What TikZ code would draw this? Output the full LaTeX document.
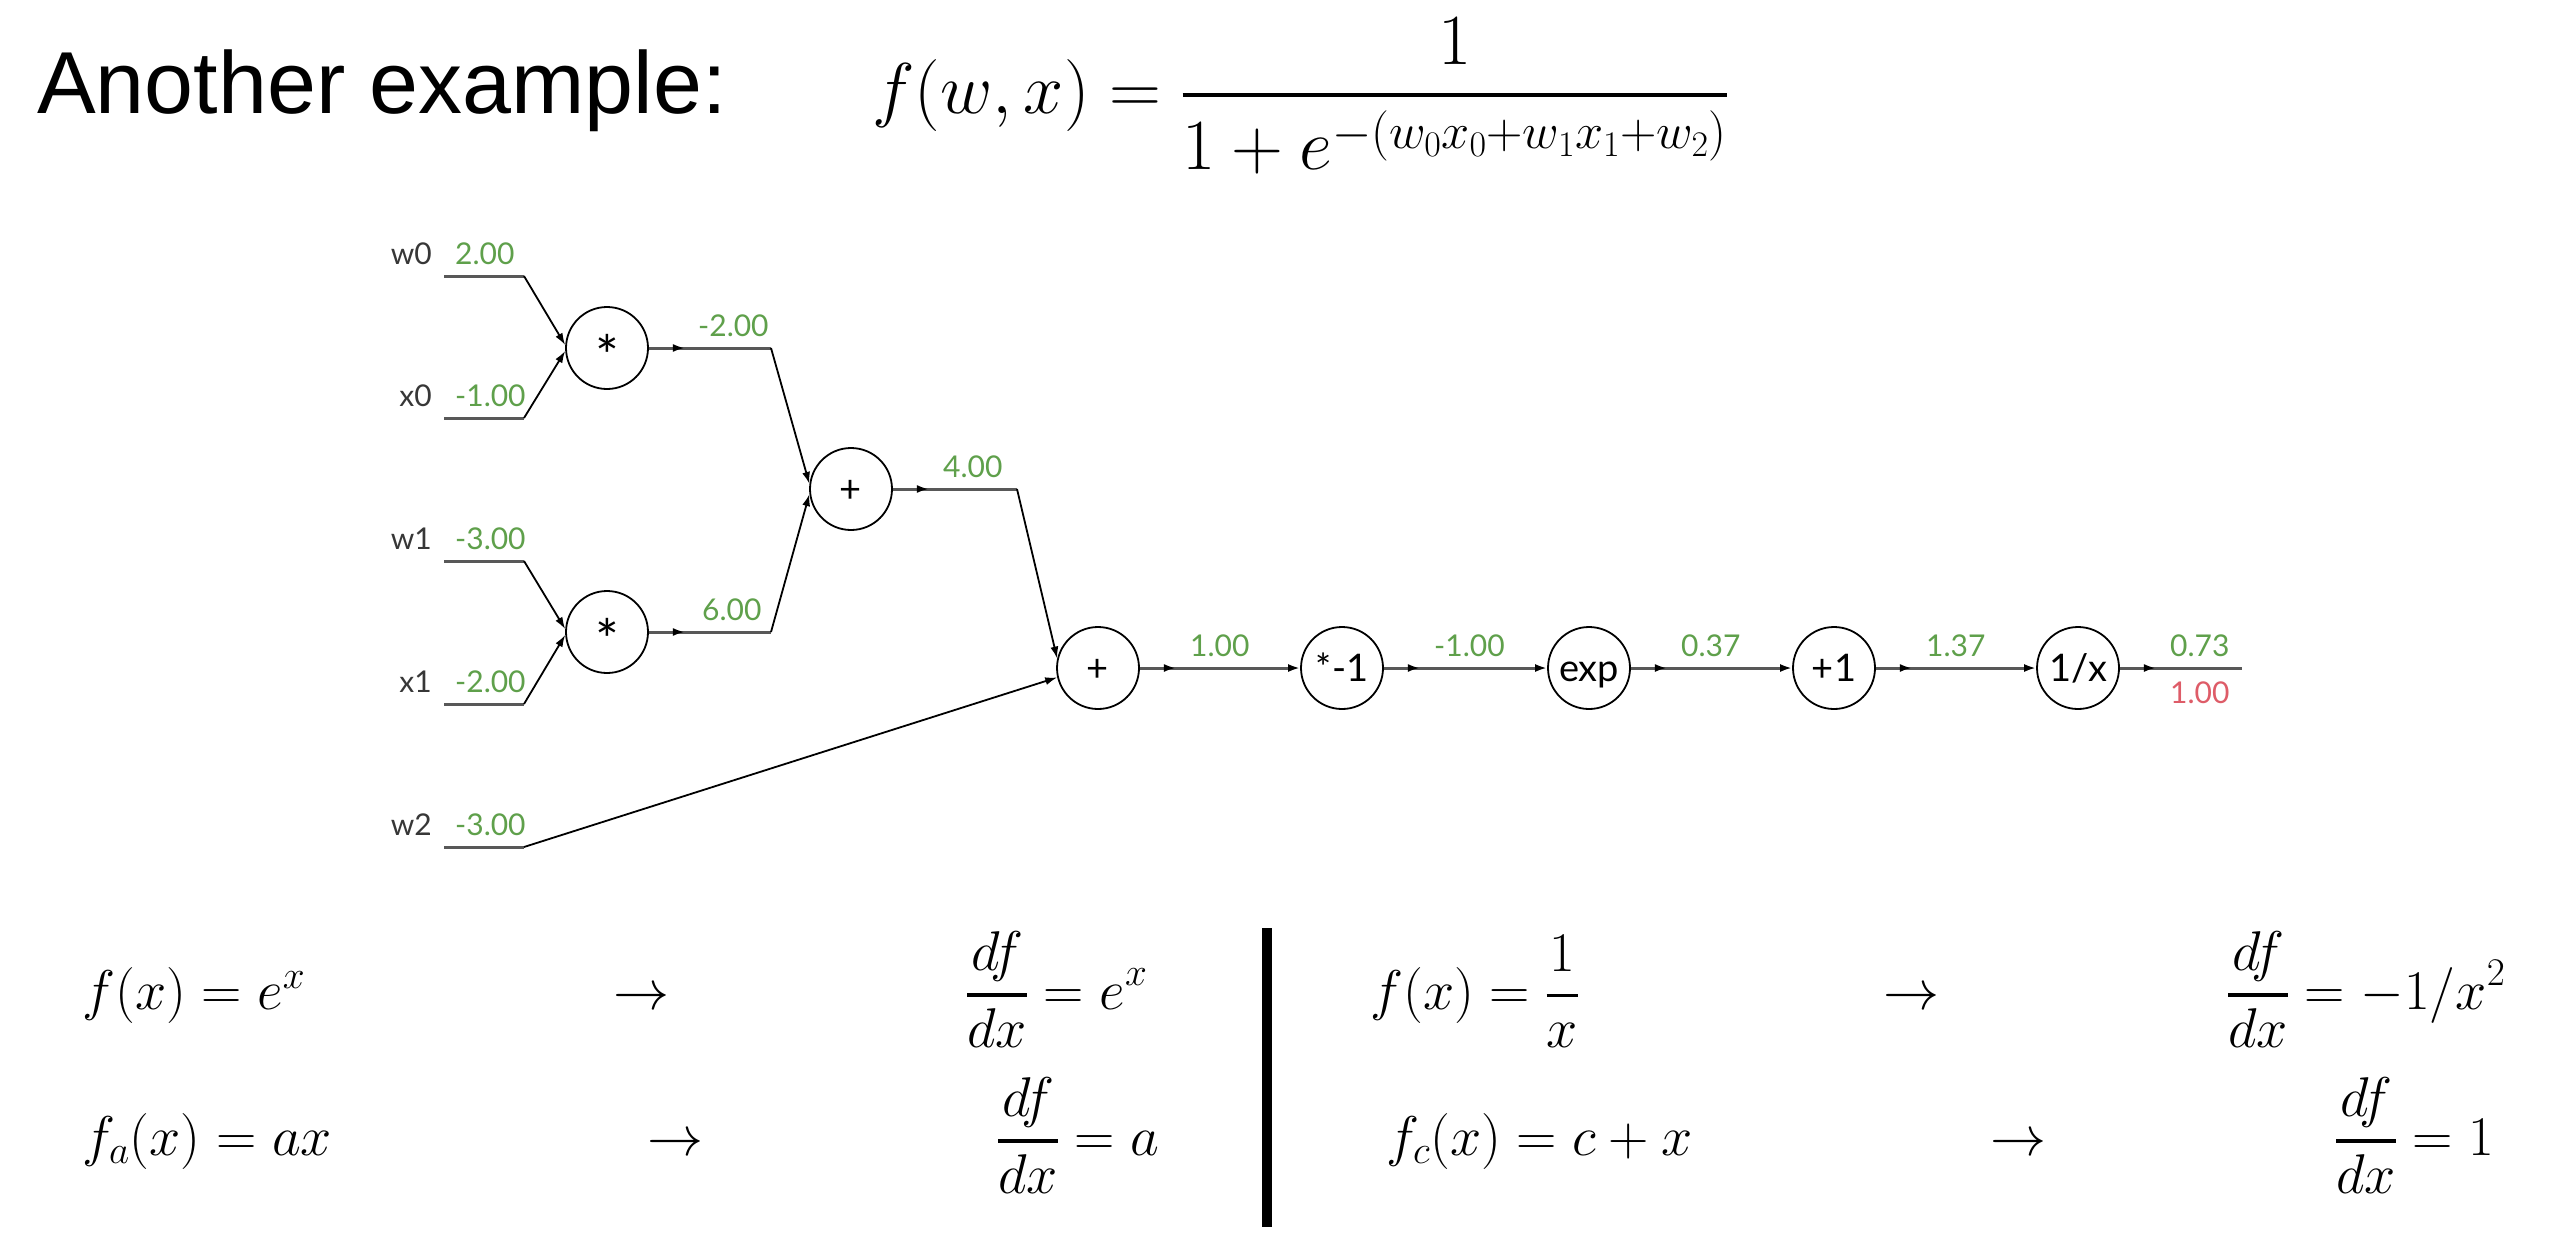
\documentclass[tikz,border=0pt]{standalone}
\usepackage{fix-cm}
\usepackage{fontspec}
\newfontfamily\titlefont{Liberation Sans}
\newfontfamily\labfont{Lato}
\usetikzlibrary{arrows.meta,decorations.markings}
\definecolor{valgreen}{RGB}{95,160,75}
\definecolor{gradred}{RGB}{222,92,104}
\definecolor{namegray}{RGB}{55,55,55}
\definecolor{linegray}{RGB}{88,88,88}
\begin{document}
\begin{tikzpicture}[x=1pt,y=-1pt,
  op/.style={circle,draw,line width=1.8pt,minimum size=82pt,inner sep=0pt,
    text height=27pt,text depth=0pt,font=\labfont\fontsize{38}{44}\selectfont},
  inname/.style={anchor=base east,inner sep=0pt,text=namegray,font=\labfont\fontsize{30}{36}\selectfont},
  val/.style={anchor=base west,inner sep=0pt,text=valgreen,font=\labfont\fontsize{30}{36}\selectfont},
  gradval/.style={val,text=gradred},
  hwire/.style={draw=linegray,line width=3pt},
  diag/.style={draw=black,line width=1.8pt,-{Latex[length=12pt,width=8pt]}},
  endtip/.style={-{Latex[length=12pt,width=8pt,color=black]}},
  midtip/.style={postaction={decorate},decoration={markings,
    mark=at position 36pt with {\arrow[black]{Latex[length=12pt,width=8pt]}}}},
  fml/.style={anchor=base west,inner sep=0pt,font=\fontsize{56}{67}\selectfont},
  titletext/.style={anchor=base west,inner sep=0pt,font=\titlefont\fontsize{88}{100}\selectfont}]
\useasboundingbox[fill=white] (0,0) rectangle (2572,1248);

% title and formula
\node[titletext] (ttl) at (37,113) {Another example:};
\node[anchor=base west,inner sep=0pt,font=\fontsize{72}{86}\selectfont] (fwx) at (872,113)
  {$\displaystyle f(w,x)={1\above 4.5pt 1+e^{-(w_0x_0+w_1x_1+w_2)}}$};

% operation nodes
\node[op] (m1) at (607,348) {\raisebox{-15pt}{\fontsize{56}{60}\selectfont *}};
\node[op] (m2) at (607,632) {\raisebox{-15pt}{\fontsize{56}{60}\selectfont *}};
\node[op] (a1) at (851,489) {+};
\node[op] (a2) at (1098,668) {+};
\node[op] (neg) at (1342,668) {*-1};
\node[op] (ex) at (1589,668) {exp};
\node[op] (p1) at (1834,668) {+1};
\node[op] (inv) at (2078,668) {1/x};

% inputs
\coordinate (w0s) at (444,276); \coordinate (w0e) at (524,276);
\coordinate (x0s) at (444,418); \coordinate (x0e) at (524,418);
\coordinate (w1s) at (444,561); \coordinate (w1e) at (524,561);
\coordinate (x1s) at (444,704); \coordinate (x1e) at (524,704);
\coordinate (w2s) at (444,847); \coordinate (w2e) at (524,847);
\foreach \c in {w0,x0,w1,x1,w2} {\draw[hwire] (\c s) -- (\c e);}
\node[inname] (w0n) at (432,264) {w0};  \node[val] (w0v) at (455,264) {2.00};
\node[inname] (x0n) at (432,406) {x0};  \node[val] (x0v) at (455,406) {-1.00};
\node[inname] (w1n) at (432,549) {w1};  \node[val] (w1v) at (455,549) {-3.00};
\node[inname] (x1n) at (432,692) {x1};  \node[val] (x1v) at (455,692) {-2.00};
\node[inname] (w2n) at (432,835) {w2};  \node[val] (w2v) at (455,835) {-3.00};

\draw[diag] (w0e) -- (m1.176);
\draw[diag] (x0e) -- (m1.184);
\draw[diag] (w1e) -- (m2.176);
\draw[diag] (x1e) -- (m2.184);
\draw[diag] (w2e) -- (a2.193);

% products into first sum
\coordinate (m1c) at (771,348);
\coordinate (m2c) at (771,632);
\coordinate (a1c) at (1017,489);
\draw[hwire,midtip] (m1.east) -- (m1c);
\draw[diag] (m1c) -- (a1.173);
\node[val] (m1v) at (698,336) {-2.00};
\draw[hwire,midtip] (m2.east) -- (m2c);
\draw[diag] (m2c) -- (a1.187);
\node[val] (m2v) at (702,620) {6.00};
\draw[hwire,midtip] (a1.east) -- (a1c);
\draw[diag] (a1c) -- (a2.167);
\node[val] (a1v) at (943,477) {4.00};

% chain
\draw[hwire,midtip,endtip] (a2) -- (neg);
\node[val] (a2v) at (1190,656) {1.00};
\draw[hwire,midtip,endtip] (neg) -- (ex);
\node[val] (negv) at (1434,656) {-1.00};
\draw[hwire,midtip,endtip] (ex) -- (p1);
\node[val] (exv) at (1681,656) {0.37};
\draw[hwire,midtip,endtip] (p1) -- (inv);
\node[val] (p1v) at (1926,656) {1.37};
\coordinate (outE) at (2242,668);
\draw[hwire,midtip] (inv) -- (outE);
\node[val] (invv) at (2170,656) {0.73};
\node[gradval] (invg) at (2170,703) {1.00};

% local derivative table
\node[fml] (r1a) at (82,1009) {$f(x)=e^x$};
\node[fml] (r1b) at (613,1009) {$\to$};
\node[fml] (r1c) at (966,1009) {$\displaystyle {df\above 4pt dx}=e^x$};
\node[fml] (r2a) at (82,1155) {$f_a(x)=ax$};
\node[fml] (r2b) at (647,1155) {$\to$};
\node[fml] (r2c) at (997,1155) {$\displaystyle {df\above 4pt dx}=a$};
\fill[black] (1262,928) rectangle (1272,1227);
\node[fml] (r1d) at (1370,1009) {$\displaystyle f(x)={1\above 3pt x}$};
\node[fml] (r1e) at (1883,1009) {$\to$};
\node[fml] (r1f) at (2227,1009) {$\displaystyle {df\above 4pt dx}=-1/x^2$};
\node[fml] (r2d) at (1386,1155) {$f_c(x)=c+x$};
\node[fml] (r2e) at (1990,1155) {$\to$};
\node[fml] (r2f) at (2335,1155) {$\displaystyle {df\above 4pt dx}=1$};
\end{tikzpicture}
\end{document}
